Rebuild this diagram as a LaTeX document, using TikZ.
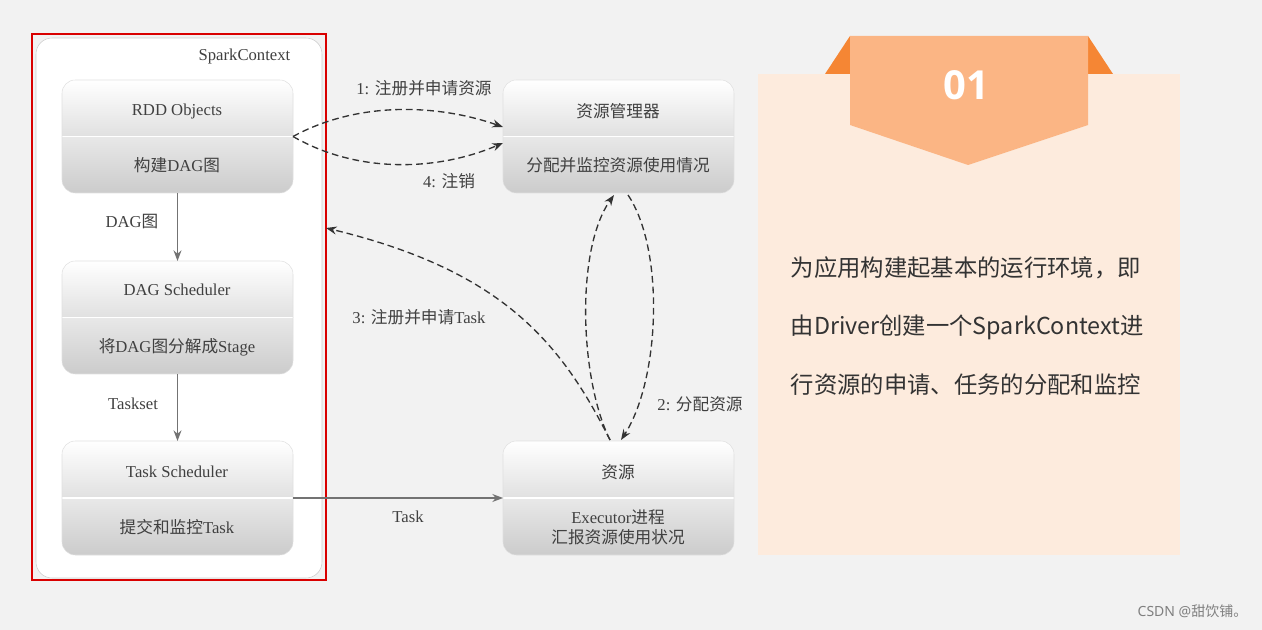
\documentclass[tikz,border=0pt]{standalone}
\usepackage{fontspec}
\setmainfont{Liberation Serif}
\newfontfamily\cjk{Noto Sans CJK SC}
\usetikzlibrary{arrows.meta}
\definecolor{bg}{HTML}{F2F2F2}
\definecolor{panel}{HTML}{FDEBDD}
\definecolor{banner}{HTML}{FBB584}
\definecolor{dark}{HTML}{F58634}
\begin{document}
\begin{tikzpicture}[x=0.75pt,y=-0.75pt,
  lbl/.style={font=\fontsize{12.5}{14}\selectfont, text=black!75},
  dasharr/.style={dash pattern=on 5pt off 3pt, line width=1pt, black!80, -{Stealth[length=8pt]}},
  solidarr/.style={line width=1pt, black!55, -{Stealth[length=8pt]}}]
\fill[bg] (0,0) rectangle (1262,630);
\useasboundingbox (0,0) rectangle (1262,630);
% right panel
\fill[panel] (758,74) rectangle (1180,555);
\fill[dark] (825,74) -- (850,36) -- (850,74) -- cycle;
\fill[dark] (1113,74) -- (1088,36) -- (1088,74) -- cycle;
\fill[banner] (850,36) -- (1088,36) -- (1088,125) -- (968,165) -- (850,125) -- cycle;
\node[text=white, font=\fontsize{30}{32}\selectfont\sffamily\bfseries] (num) at (966,85) {\fontspec{Open Sans}\bfseries 01};
\node[anchor=west, font=\cjk\fontsize{17.5}{20}\selectfont, text=black!80, align=left] (desc) at (786,326)
 {为应用构建起基本的运行环境，即\\[24pt]由Driver创建一个SparkContext进\\[24pt]行资源的申请、任务的分配和监控};
% left container
\fill[white, draw=black!20] (36,38) [rounded corners=12pt] rectangle (322,578);
\draw[red!85!black, line width=2pt] (32,34) rectangle (326,580);
\node[lbl, anchor=east] (sc) at (295,56) {SparkContext};
\coordinate (rbox) at (326,228);
% node macro
\newcommand{\twobox}[6]{% name x1 y1 x2 y2 texts
  \begin{scope}
  \clip[rounded corners=10pt] (#2,#3) rectangle (#4,#5);
  \shade[top color=white, bottom color=black!12] (#2,#3) rectangle (#4,{(#3+#5)/2});
  \shade[top color=black!9, bottom color=black!20] (#2,{(#3+#5)/2}) rectangle (#4,#5);
  \draw[white, line width=1pt] (#2,{(#3+#5)/2}) -- (#4,{(#3+#5)/2});
  \end{scope}
  \draw[black!12, rounded corners=10pt] (#2,#3) rectangle (#4,#5);
  \path (#2,#3) coordinate (#1-nw) (#4,#5) coordinate (#1-se)
        ({(#2+#4)/2},#3) coordinate (#1-n) ({(#2+#4)/2},#5) coordinate (#1-s)
        (#2,{(#3+#5)/2}) coordinate (#1-w) (#4,{(#3+#5)/2}) coordinate (#1-e);
  #6}
\twobox{rdd}{62}{80}{293}{193}{%
  \node[lbl] (rddt) at (177,111) {RDD Objects};
  \node[lbl] (rddb) at (177,165) {{\cjk 构建}DAG{\cjk 图}};}
\twobox{dag}{62}{261}{293}{374}{%
  \node[lbl] (dagt) at (177,290) {DAG Scheduler};
  \node[lbl] (dagb) at (177,347) {{\cjk 将}DAG{\cjk 图分解成}Stage};}
\twobox{ts}{62}{441}{293}{555}{%
  \node[lbl] (tst) at (177,472) {Task Scheduler};
  \node[lbl] (tsb) at (177,527) {{\cjk 提交和监控}Task};}
\twobox{rm}{503}{80}{734}{193}{%
  \node[lbl] (rmt) at (618,111) {\cjk 资源管理器};
  \node[lbl] (rmb) at (618,165) {\cjk 分配并监控资源使用情况};}
\twobox{res}{503}{441}{734}{555}{%
  \node[lbl] (rest) at (618,472) {\cjk 资源};
  \node[lbl, align=center] (resb) at (618,527) {Executor{\cjk 进程}\\[1pt]{\cjk 汇报资源使用状况}};}
% connectors
\draw[solidarr] (rdd-s) -- (dag-n);
\draw[solidarr] (dag-s) -- (ts-n);
\draw[solidarr] (ts-e) -- (res-w);
\node[lbl] (l0) at (132,222) {DAG{\cjk 图}};
\node[lbl] (l1) at (133,404) {Taskset};
\node[lbl] (l2) at (408,517) {Task};
\coordinate (rmw1) at (503,127);
\coordinate (rmw2) at (503,143);
\draw[dasharr] (rdd-e) .. controls (360,100) and (440,105) .. (rmw1);
\draw[dasharr] (rdd-e) .. controls (360,175) and (440,170) .. (rmw2);
\node[lbl] (l3) at (424,88) {1: {\cjk 注册并申请资源}};
\node[lbl] (l4) at (449,181) {4: {\cjk 注销}};
\coordinate (ra) at (610,440);
\coordinate (rb) at (621,440);
\coordinate (ma) at (614,195);
\coordinate (mb) at (628,195);
\draw[dasharr] (ra) .. controls (580,380) and (575,250) .. (ma);
\draw[dasharr] (mb) .. controls (665,250) and (660,380) .. (rb);
\node[lbl] (l5) at (700,404) {2: {\cjk 分配资源}};
\draw[dasharr] (ra) .. controls (560,340) and (500,270) .. (rbox);
\node[lbl] (l6) at (419,317) {3: {\cjk 注册并申请}Task};
\node[text=black!50, font=\fontsize{10.5}{12}\selectfont\fontspec{Noto Sans}, anchor=east] (wm) at (1252,611) {CSDN @{\cjk 甜饮铺。}};
\end{tikzpicture}
\end{document}
